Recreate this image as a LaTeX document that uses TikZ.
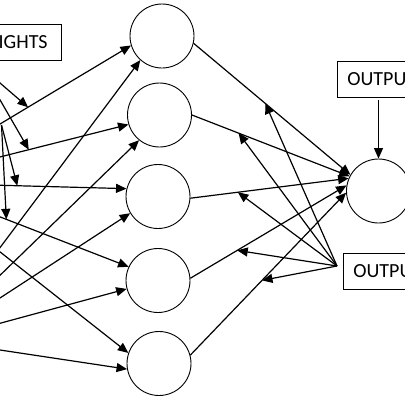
\documentclass[tikz,border=0pt]{standalone}
\usepackage{fontspec}
\setmainfont{Carlito}
\usetikzlibrary{arrows.meta}
\begin{document}
\begin{tikzpicture}[x=1pt,y=-1pt,
  neuron/.style={circle,draw,line width=0.9pt,minimum size=64pt,inner sep=0pt},
  lbl/.style={draw,line width=0.8pt,font=\fontsize{20}{24}\selectfont,minimum height=36pt,inner ysep=0pt,inner xsep=10pt},
  conn/.style={line width=1.2pt,-{Triangle[length=10.5pt,width=9pt]}}]
\clip (0,0) rectangle (405,405);
% hidden neurons
\node[neuron] (H1) at (162,36) {};
\node[neuron] (H2) at (159.5,115) {};
\node[neuron] (H3) at (158,196.5) {};
\node[neuron] (H4) at (158,280.5) {};
\node[neuron] (H5) at (159,363.5) {};
% output neuron
\node[neuron] (O) at (378.5,191) {};
% labels
\node[lbl,anchor=east,inner xsep=14pt] (wt) at (62,42) {WEIGHTS};
\node[lbl,anchor=west] (ob1) at (337,79) {OUTPUT};
\node[lbl,anchor=west] (ob2) at (343,271) {OUTPUT};
% input line starts (off the left edge)
\coordinate (a1) at (-10,130);
\coordinate (a2) at (-10,261);
\coordinate (b1) at (-10,159.5);
\coordinate (b2) at (-10,285);
\coordinate (c1) at (-10,185);
\coordinate (c2) at (-10,304.5);
\coordinate (d1) at (-10,213);
\coordinate (d2) at (-10,326);
\coordinate (e1) at (-10,244);
\coordinate (e2) at (-10,348.5);
% inputs to hidden
\draw[conn] (a1) -- (H1.197) coordinate[pos=0.27] (wa);
\draw[conn] (a2) -- (H1.228);
\draw[conn] (b1) -- (H2.197) coordinate[pos=0.28] (wb);
\draw[conn] (b2) -- (H2.231);
\draw[conn] (c1) -- (H3.166) coordinate[pos=0.2] (wc);
\draw[conn] (c2) -- (H3.211);
\draw[conn] (d1) -- (H4.155) coordinate[pos=0.118] (wd);
\draw[conn] (d2) -- (H4.195);
\draw[conn] (e1) -- (H5.161);
\draw[conn] (e2) -- (H5.190);
% weight arrows
\coordinate (w1) at (-10,74.4);
\coordinate (w2) at (-10,82.5);
\coordinate (ws) at (1.5,125);
\draw[conn] (w1) -- (wa);
\draw[conn] (w2) -- (wb);
\draw[conn] (ws) -- (wc);
\draw[conn] (ws) -- (wd);
% hidden to output
\draw[conn] (H1.-13) -- (O.150) coordinate[pos=0.457] (m1);
\draw[conn] (H2.0) -- (O.153) coordinate[pos=0.296] (m2);
\draw[conn] (H3.-3) -- (O.157) coordinate[pos=0.30] (m3);
\draw[conn] (H4.4) -- (O.170) coordinate[pos=0.30] (m4);
\draw[conn] (H5.15) -- (O.183) coordinate[pos=0.46] (m5);
% output label to neuron
\draw[conn,shorten <=3pt] (O |- ob1.south) -- (O.north);
% backpropagated error arrows
\coordinate (bp) at ([xshift=-6pt,yshift=5pt]ob2.west);
\foreach \m in {m1,m2,m3,m4,m5} \draw[conn] (bp) -- (\m);
\end{tikzpicture}
\end{document}
